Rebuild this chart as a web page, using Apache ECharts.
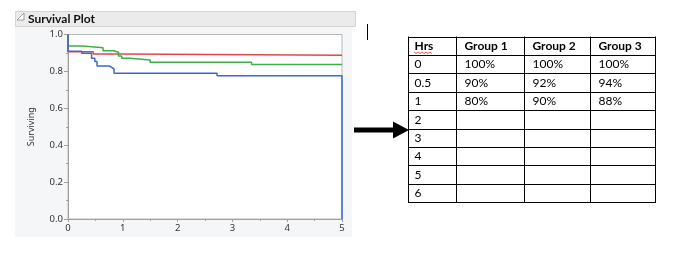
<!DOCTYPE html>
<html><head><meta charset="utf-8">
<script src="https://cdn.jsdelivr.net/npm/echarts@6/dist/echarts.min.js"></script>
<style>html,body{margin:0;padding:0;background:#fff}#c{width:685px;height:274px}</style>
</head><body><div id="c"></div>
<script>
// Survival curves: [time (hrs), surviving fraction]
const group1Red = [[0,1.0],[0,0.907],[0.46,0.894],[1.0,0.888],[5,0.888]];
const group2Green = [[0,1.0],[0,0.938],[0.27,0.928],[0.64,0.912],[0.83,0.904],[0.92,0.883],[0.98,0.871],[1.13,0.862],[1.5,0.849],[3.35,0.838],[5,0.838]];
const group3Blue = [[0,1.0],[0,0.909],[0.25,0.898],[0.43,0.871],[0.49,0.853],[0.53,0.829],[0.75,0.822],[0.80,0.812],[0.84,0.790],[2.72,0.777],[5,0.777],[5,0]];
const xTicks = [0,1,2,3,4,5];
const yTicks = [0.0,0.2,0.4,0.6,0.8,1.0];
const tableHeader = ['Hrs','Group 1','Group 2','Group 3'];
const tableRows = [
  ['0','100%','100%','100%'],
  ['0.5','90%','92%','94%'],
  ['1','80%','90%','88%'],
  ['2','','',''],['3','','',''],['4','','',''],['5','','',''],['6','','','']
];

const chart = echarts.init(document.getElementById('c'), null, {renderer:'canvas'});

// table graphics
const colX = [408.5, 456.5, 524.5, 590.5, 655.5];
const rowY0 = 36.5, rowH = 18.4;
const allRows = [tableHeader].concat(tableRows);
const tableEls = [];
const nRows = allRows.length;
for (let r = 0; r <= nRows; r++) {
  const y = Math.round(rowY0 + r*rowH) + 0.5;
  tableEls.push({type:'line', shape:{x1:colX[0]-0.5,y1:y,x2:colX[4]+0.5,y2:y}, style:{stroke:'#000',lineWidth:1}});
}
const yBottom = Math.round(rowY0 + nRows*rowH) + 0.5;
colX.forEach(x => tableEls.push({type:'line', shape:{x1:x,y1:rowY0,x2:x,y2:yBottom}, style:{stroke:'#000',lineWidth:1}}));
allRows.forEach((row, r) => {
  row.forEach((txt, c) => {
    if (!txt) return;
    tableEls.push({type:'text', x: colX[c]+ (c===0?6:8), y: rowY0 + r*rowH + rowH/2 + 0.5,
      style:{text:txt, font:(r===0?'bold ':'')+'12px Lato', fill:'#000', verticalAlign:'middle', align:'left'}});
  });
});
// spelling squiggle under "Hrs"
const sq = [];
for (let i = 0; i <= 9; i++) sq.push([414 + i*2, 52.5 + (i%2?1:-0.5)]);
tableEls.push({type:'polyline', shape:{points:sq}, style:{stroke:'#e03030',lineWidth:0.8,fill:null}});

const lineStyle = w => ({width:1.6});

chart.setOption({
  animation:false,
  backgroundColor:'#ffffff',
  graphic:[
    {type:'rect', z:-5, shape:{x:15,y:27,width:337,height:210}, style:{fill:'#f4f6f8'}},
    {type:'rect', z:-4, shape:{x:15.5,y:11.5,width:340,height:15}, style:{fill:'#ebebeb',stroke:'#d4d4d4',lineWidth:1}},
    {type:'polygon', shape:{points:[[24,13],[24,20],[17,20]]}, style:{fill:'#fff',stroke:'#8a8a8a',lineWidth:0.8}},
    {type:'text', x:28, y:19.5, style:{text:'Survival Plot', font:'bold 12px Lato', fill:'#111', verticalAlign:'middle'}},
    {type:'line', shape:{x1:367.5,y1:24,x2:367.5,y2:40}, style:{stroke:'#000',lineWidth:1}},
    {type:'rect', shape:{x:354,y:127.5,width:42,height:5}, style:{fill:'#000'}},
    {type:'polygon', shape:{points:[[393,121.5],[409,130],[393,138.5]]}, style:{fill:'#000'}},
    ...tableEls
  ],
  grid:{left:68, top:34.5, right:343, bottom:55, show:true, backgroundColor:'#ffffff', borderColor:'#b8b8b8', borderWidth:1},
  xAxis:{type:'value', min:0, max:5, interval:1,
    axisLine:{show:true, lineStyle:{color:'#a0a0a0'}},
    axisTick:{show:true, length:3, lineStyle:{color:'#a0a0a0'}},
    minorTick:{show:true, splitNumber:2, length:2, lineStyle:{color:'#a0a0a0'}},
    splitLine:{show:false},
    axisLabel:{margin:4, fontSize:9.5, color:'#333', fontFamily:'Noto Sans',
      formatter: v => xTicks.includes(v) ? String(v) : ''}
  },
  yAxis:{type:'value', min:0, max:1, interval:0.2,
    name:'Surviving', nameLocation:'middle', nameRotate:90, nameGap:32,
    nameTextStyle:{fontSize:9, color:'#333', fontFamily:'Noto Sans'},
    axisLine:{show:true, lineStyle:{color:'#a0a0a0'}},
    axisTick:{show:true, length:4, lineStyle:{color:'#a0a0a0'}},
    minorTick:{show:true, splitNumber:2, length:2, lineStyle:{color:'#a0a0a0'}},
    splitLine:{show:false},
    axisLabel:{margin:5, fontSize:9.5, color:'#333', fontFamily:'Noto Sans',
      formatter: v => { const t = yTicks.find(k => Math.abs(k-v)<1e-6); return t===undefined ? '' : t.toFixed(1); }}
  },
  series:[
    {type:'line', step:'end', data:group1Red, showSymbol:false, symbol:'none', lineStyle:{width:1.5,color:'#e0474c'}, itemStyle:{color:'#e0474c'}},
    {type:'line', step:'end', data:group2Green, showSymbol:false, symbol:'none', lineStyle:{width:1.5,color:'#3fae49'}, itemStyle:{color:'#3fae49'}},
    {type:'line', step:'end', data:group3Blue, showSymbol:false, symbol:'none', lineStyle:{width:1.5,color:'#3d68cc'}, itemStyle:{color:'#3d68cc'}}
  ]
});
</script></body></html>
